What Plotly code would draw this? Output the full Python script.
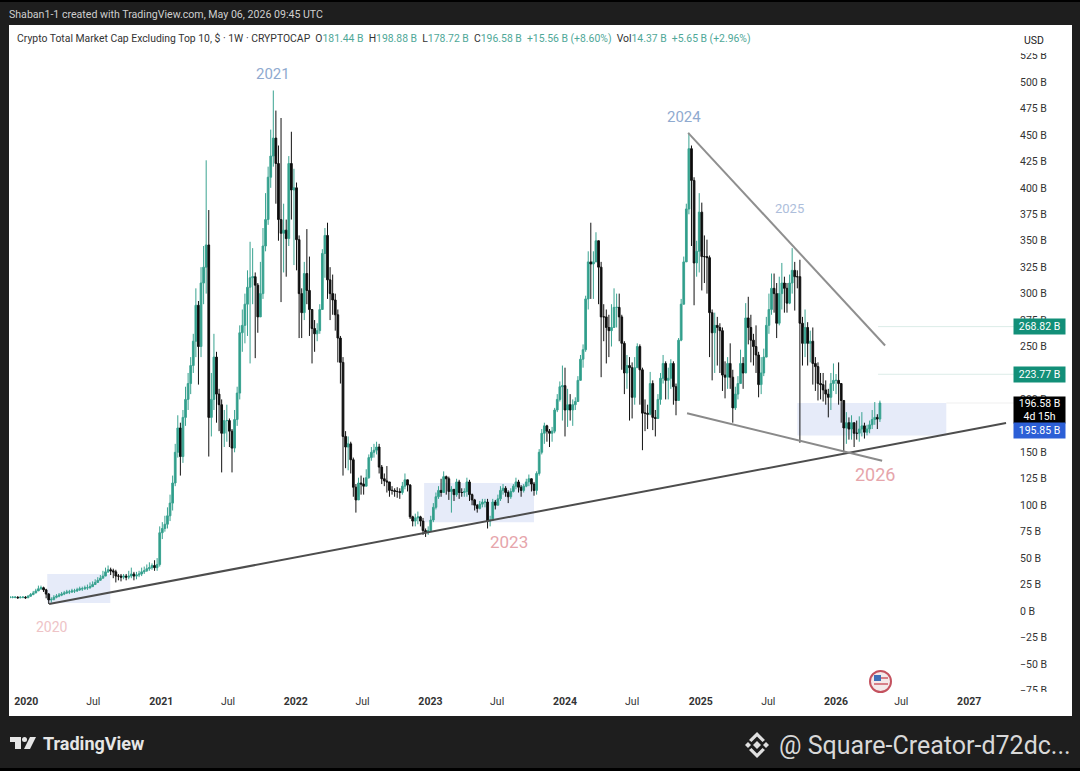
import pandas as pd
import plotly.graph_objects as go

# weekly candles in billions, first week is 2019-11-18
closes = [
    13,13,13,12.5,13,13,12.5,14,15.5,17,
    19,21,22,20,16,10.5,11,13,14,15,
    16,17,18,18,19,19,20,21,21,22,
    22,23,25,27,29,31,33,37,39,38,
    37,33,33,32,33,32,33,35,33,34,
    35,37,38,40,41,43,41,44,74,78,
    82,90,102,121,150,173,146,183,200,215,
    232,255,289,250,310,325,346,183,200,240,
    205,195,168,180,180,170,154,181,206,263,
    270,290,306,315,316,308,278,300,345,370,
    410,430,447,423,370,357,360,352,423,398,
    400,351,300,282,319,303,285,267,262,265,
    285,338,355,313,300,294,280,258,235,165,
    155,158,143,117,105,121,120,118,126,145,
    150,152,155,136,125,123,122,114,114,113,
    113,112,118,124,119,89,85,88,89,85,
    76,74,76,86,98,108,114,112,127,125,
    113,115,110,122,112,112,113,122,110,105,
    100,97,101,103,103,85,86,103,100,106,
    114,116,112,108,113,118,122,117,114,118,
    122,125,120,114,130,150,168,175,170,168,
    170,190,200,212,213,190,195,190,195,198,
    218,238,247,295,330,328,330,350,325,278,
    278,268,265,268,287,287,278,253,225,232,
    230,202,230,250,228,187,187,186,215,183,
    182,200,220,234,218,220,234,212,199,256,
    290,330,380,437,407,329,340,377,335,335,
    334,282,263,270,268,265,223,221,234,221,
    192,205,215,234,225,277,268,256,250,242,
    214,225,240,270,285,305,300,272,300,310,
    305,291,310,322,316,316,272,253,268,253,
    255,234,231,215,214,209,205,202,215,218,
    218,215,199,173,178,172,178,168,168,172,
    175,169,172,176,181,183,181.44,196.58,
]
highs = [
    14,14,14,14,14,14,14,15,17,19,
    21,24,24,23,21,17,13,15,16,17,
    18,19,20,20,21,21,22,23,23,24,
    25,27,28,30,32,34,38,41,43,41,
    40,39,35,35,35,35,38,41,37,37,
    38,41,42,44,46,45,48,50,80,84,
    90,98,110,128,158,185,178,190,212,225,
    240,262,305,293,325,345,426,379,225,262,
    245,210,200,190,195,182,172,190,212,270,
    285,300,322,349,343,320,310,330,362,395,
    420,455,492,473,440,466,385,370,430,453,
    418,405,355,305,330,361,335,285,275,272,
    290,342,362,367,325,318,300,285,260,240,
    170,165,160,145,120,126,128,126,134,148,
    155,158,160,158,138,130,137,122,118,116,
    117,116,122,130,124,120,90,92,94,90,
    88,78,80,90,102,112,118,125,132,128,
    127,118,115,125,124,116,116,126,124,111,
    106,101,104,106,106,106,90,106,105,110,
    118,120,118,114,116,120,126,124,119,120,
    125,129,124,122,132,153,172,178,176,172,
    174,192,205,217,232,230,210,205,200,202,
    222,242,252,298,340,367,340,358,350,330,
    290,285,280,290,305,300,300,280,255,242,
    240,235,240,253,252,230,200,195,226,218,
    190,205,225,242,236,230,238,236,215,258,
    295,335,385,452,440,410,350,395,386,355,
    351,336,285,282,278,272,268,236,240,253,
    228,212,222,247,240,291,297,280,262,270,
    245,240,248,278,300,319,319,310,316,329,
    316,310,318,343,330,322,332,278,285,273,
    265,268,240,235,225,225,218,210,225,234,
    224,235,205,199,188,183,185,178,180,184,
    188,178,176,180,190,197.5,186,198.88,
]
lows = [
    12,12,12,11.5,12,12,11.5,12.5,13.5,15,
    17,19,20,18,12,6.6,8,10,12,13,
    14,15,16,16,17,17,18,19,19,20,
    20,21,23,25,27,29,31,33,36,34,
    31,27,29,28,30,29,30,31,29,30,
    32,33,35,37,38,39,38,38,42,68,
    75,78,85,95,118,145,128,140,175,190,
    205,225,240,214,240,290,300,146,165,190,
    178,170,131,155,160,155,131,150,175,200,
    245,253,260,234,290,239,263,280,295,340,
    365,400,420,385,350,292,320,316,345,370,
    327,322,258,258,275,290,260,234,245,255,
    262,285,315,295,275,280,265,235,215,128,
    135,133,130,108,93,108,110,110,118,125,
    142,145,148,130,120,118,112,108,110,108,
    107,106,110,115,113,87,80,80,82,80,
    72,70,72,76,84,96,106,108,112,110,
    105,93,104,108,106,108,108,108,104,100,
    95,93,96,98,98,78,80,88,96,100,
    104,110,108,102,106,112,115,112,108,112,
    117,118,113,109,110,128,148,158,160,155,
    160,168,188,198,180,165,174,180,175,190,
    198,218,230,245,285,295,295,330,290,221,
    255,234,240,250,268,268,255,228,205,210,
    180,182,195,230,195,152,170,172,185,171,
    165,185,195,215,200,200,210,195,185,200,
    255,295,335,375,345,289,316,320,303,310,
    300,240,218,225,232,225,208,201,210,210,
    178,190,200,215,210,225,252,235,232,225,
    202,205,222,240,262,280,282,258,270,285,
    282,282,290,300,284,305,159,232,240,232,
    235,214,208,199,200,198,195,183,190,208,
    205,195,178,150,158,162,162,155,162,160,
    165,163,166,168,172,176,172,178.72,
]
opens = [13] + closes[:-1]
weeks = pd.date_range("2019-11-18", periods=len(closes), freq="7D").strftime("%Y-%m-%d").tolist()

price_ticks = list(range(-75, 550, 25))
date_ticks = ["2020-01-01","2020-07-01","2021-01-01","2021-07-01","2022-01-01","2022-07-01","2023-01-01",
              "2023-07-01","2024-01-01","2024-07-01","2025-01-03","2025-07-05","2026-01-05","2026-07-01","2027-01-01"]
date_labels = ["<b>2020</b>","Jul","<b>2021</b>","Jul","<b>2022</b>","Jul","<b>2023</b>",
               "Jul","<b>2024</b>","Jul","<b>2025</b>","Jul","<b>2026</b>","Jul","<b>2027</b>"]

W, H = 1080, 771
def px(x): return x / W
def py(y): return 1 - y / H

def rect(x0, y0, x1, y1, color, layer="below"):
    return dict(type="rect", xref="paper", yref="paper", x0=px(x0), x1=px(x1), y0=py(y0), y1=py(y1),
                fillcolor=color, line_width=0, layer=layer)

def poly(points, color):
    d = "M " + " L ".join(f"{px(a):.5f},{py(b):.5f}" for a, b in points) + " Z"
    return dict(type="path", xref="paper", yref="paper", path=d, fillcolor=color, line_width=0, layer="above")

def data_line(x0, y0, x1, y1, color, width):
    return dict(type="line", xref="x", yref="y", x0=x0, y0=y0, x1=x1, y1=y1, line=dict(color=color, width=width), layer="above")

def data_box(x0, y0, x1, y1):
    return dict(type="rect", xref="x", yref="y", x0=x0, y0=y0, x1=x1, y1=y1, fillcolor="#e6ebf9", line_width=0, layer="below")

fig = go.Figure(go.Candlestick(
    x=weeks, open=opens, high=highs, low=lows, close=closes,
    increasing=dict(line=dict(color="#3aa391", width=1), fillcolor="#2c9c88"),
    decreasing=dict(line=dict(color="#111111", width=1), fillcolor="#0c0c0c"),
    whiskerwidth=0, hoverinfo="skip",
))

shapes = [
    rect(0, 0, W, 2, "#000000"),
    rect(0, 768, W, H, "#000000"),
    rect(9, 25, 1072, 716, "#ffffff"),
    data_box("2020-02-27", 35, "2020-08-16", 7.6),
    data_box("2022-12-15", 121, "2023-10-09", 84),
    data_box("2025-09-22", 196.6, "2026-10-31", 166),
    data_line("2026-04-29", 268.82, "2027-05-08", 268.82, "#dcece8", 1),
    data_line("2026-04-29", 223.77, "2027-05-08", 223.77, "#dcece8", 1),
    data_line("2026-10-31", 196.58, "2027-05-08", 196.58, "#efefef", 1),
    data_line("2020-03-03", 6.6, "2027-04-11", 177.7, "#4d4d4d", 2),
    data_line("2024-11-30", 452, "2026-05-18", 251, "#8f8f8f", 2),
    data_line("2024-11-27", 187, "2026-05-10", 142, "#8a8a8a", 2),
    # clip the scale labels at the ends of the axis
    rect(1016, 25, 1072, 53, "#ffffff", "above"),
    rect(1016, 692, 1072, 697, "#ffffff", "above"),
    # tradingview logo
    poly([(10,737),(21,737),(21,749),(15,749),(15,742),(10,742)], "#e6e6e6"),
    dict(type="circle", xref="paper", yref="paper", x0=px(22), x1=px(27), y0=py(737), y1=py(742),
         fillcolor="#e6e6e6", line_width=0, layer="above"),
    poly([(30,737),(36,737),(30,749),(24,749)], "#e6e6e6"),
    # binance mark
    poly([(757,741),(761,745),(757,749),(753,745)], "#e0e0e0"),
    poly([(748,742),(751,745),(748,748),(745,745)], "#e0e0e0"),
    poly([(766,742),(769,745),(766,748),(763,745)], "#e0e0e0"),
    poly([(757,732),(765,740),(762.5,742),(757,736.5),(751.5,742),(749,740)], "#e0e0e0"),
    poly([(757,758),(765,750),(762.5,748),(757,753.5),(751.5,748),(749,750)], "#e0e0e0"),
    # flag badge
    dict(type="circle", xref="paper", yref="paper", x0=px(870), x1=px(891), y0=py(671), y1=py(692),
         fillcolor="#f4e9ea", line=dict(color="#c4525f", width=2), layer="above"),
    rect(874, 675, 881, 681, "#3f70b8", "above"),
    rect(881, 677, 888, 679, "#d77f88", "above"),
    rect(874, 683, 888, 685, "#d77f88", "above"),
]

def note(x, y, text, size, color):
    return dict(x=x, y=y, xref="x", yref="y", text=text, showarrow=False, font=dict(size=size, color=color))

def page_text(x, y, text, size, color, anchor="left"):
    return dict(x=px(x), y=py(y), xref="paper", yref="paper", text=text, showarrow=False, xanchor=anchor,
                yanchor="middle", font=dict(size=size, color=color))

def tag(y, h, text, color):
    return dict(x=px(1039.5), y=py(y), xref="paper", yref="paper", text=text, showarrow=False, width=51, height=h,
                xanchor="center", yanchor="middle", bgcolor=color, borderpad=0, font=dict(size=10.5, color="#ffffff"))

teal = "#4fa898"
title = ('Crypto Total Market Cap Excluding Top 10, $ · 1W · CRYPTOCAP  '
         f'O<span style="color:{teal}">181.44 B</span>  H<span style="color:{teal}">198.88 B</span>  '
         f'L<span style="color:{teal}">178.72 B</span>  C<span style="color:{teal}">196.58 B</span>  '
         f'<span style="color:{teal}">+15.56 B (+8.60%)</span>  Vol<span style="color:{teal}">14.37 B</span>  '
         f'<span style="color:{teal}">+5.65 B (+2.96%)</span>')

annotations = [
    note("2021-10-30", 507.6, "2021", 15, "#8faacf"),
    note("2024-11-19", 467, "2024", 15, "#8faacf"),
    note("2025-09-02", 380, "2025", 13, "#adbedb"),
    note("2023-08-03", 65, "2023", 17, "#e6a5ab"),
    note("2026-04-21", 129.5, "2026", 18, "#e6a5ab"),
    note("2020-03-11", -15, "2020", 14, "#eec3c6"),
    page_text(7, 14, "Shaban1-1 created with TradingView.com, May 06, 2026 09:45 UTC", 10.6, "#cfcfcf"),
    page_text(15, 38, title, 10.4, "#333333"),
    page_text(1034, 40, "USD", 10.5, "#222222", "center"),
    tag(326.5, 15, "268.82 B", "#128f78"),
    tag(374.5, 15, "223.77 B", "#128f78"),
    tag(409.5, 26, "196.58 B<br>4d 15h", "#000000"),
    tag(430, 15, "195.85 B", "#2c5fd6"),
    page_text(41, 743, "<b>TradingView</b>", 18, "#e6e6e6"),
    page_text(777, 745, "@ Square-Creator-d72dc...", 25, "#d8d8d8"),
]

fig.update_layout(
    width=W, height=H, margin=dict(l=0, r=0, t=0, b=0, autoexpand=False),
    paper_bgcolor="#1e1e1e", plot_bgcolor="rgba(0,0,0,0)",
    font=dict(family="Roboto", size=10.5, color="#333333"),
    showlegend=False, shapes=shapes, annotations=annotations, boxgap=0.05,
    xaxis=dict(
        domain=[px(10), px(1016)], range=["2019-11-18", "2027-05-08"], rangeslider_visible=False,
        tickmode="array", tickvals=date_ticks, ticktext=date_labels, ticks="", showgrid=False,
        zeroline=False, showline=False, tickfont=dict(size=10.5, color="#333333"),
    ),
    yaxis=dict(
        domain=[py(693), py(25)], range=[-77.5, 553.9], side="right",
        tickmode="array", tickvals=price_ticks, ticktext=[f"{v} B".replace("-", "−") for v in price_ticks],
        ticks="", showgrid=False, zeroline=False, showline=False, ticklabelstandoff=3,
        tickfont=dict(size=10.5, color="#333333"),
    ),
)

fig.write_html("out.html", config=dict(displayModeBar=False), post_script="document.body.style.margin='0';")
